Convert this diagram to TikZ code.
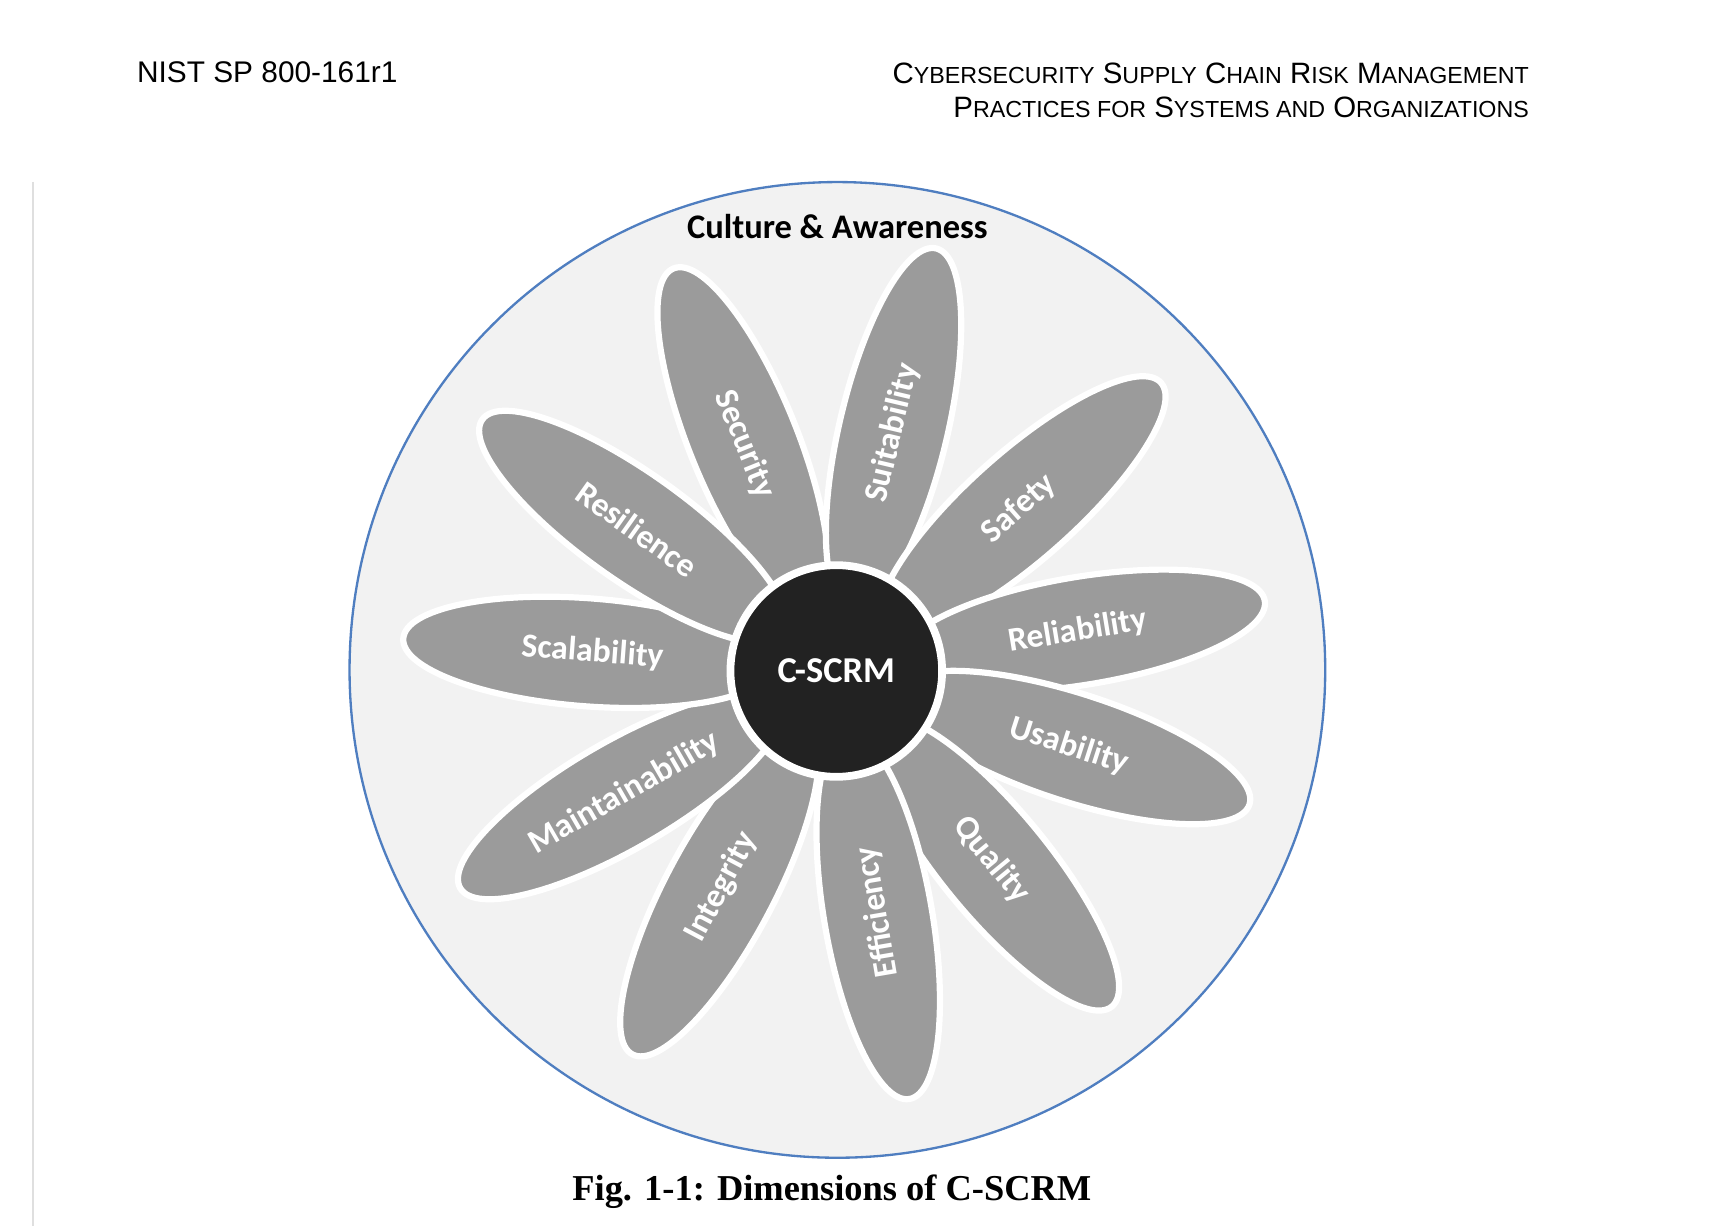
\documentclass[tikz,border=0pt]{standalone}
\usepackage{fontspec}
\setmainfont{Liberation Sans}
\newfontfamily\carl{Carlito}
\newfontfamily\tms{Liberation Serif}
\newcommand\lsc[1]{{\fontsize{6pt}{6pt}\selectfont #1}}
\definecolor{petal}{HTML}{9B9B9B}
\definecolor{bgc}{HTML}{F2F2F2}
\definecolor{ring}{HTML}{4F7EC0}
\definecolor{core}{HTML}{222222}
\usetikzlibrary{shapes.geometric,calc}
\tikzset{
 petalshape/.style={ellipse,draw=white,line width=1.6pt,fill=petal,minimum width=3.36cm,minimum height=0.98cm,inner sep=0pt},
 petaltext/.style={text=white,font=\carl\bfseries\fontsize{8.7pt}{9pt}\selectfont},
}
\begin{document}
\begin{tikzpicture}[x=0.01cm,y=-0.01cm]
\useasboundingbox (0,0) rectangle (1552,1113);
\draw[gray!25,line width=0.6pt] (30,165) -- (30,1113);
\node[anchor=west,font=\fontsize{7.7pt}{8pt}\selectfont] (hl) at (112,66) {NIST SP 800-161r1};
\node[anchor=east,font=\fontsize{7.6pt}{8pt}\selectfont] (hr1) at (1400,67) {C\lsc{YBERSECURITY} S\lsc{UPPLY} C\lsc{HAIN} R\lsc{ISK} M\lsc{ANAGEMENT}};
\node[anchor=east,font=\fontsize{7.6pt}{8pt}\selectfont] (hr2) at (1400,97) {P\lsc{RACTICES FOR} S\lsc{YSTEMS AND} O\lsc{RGANIZATIONS}};
\node[circle,draw=ring,fill=bgc,line width=0.6pt,minimum size=8.85cm,inner sep=0pt] (bg) at (760,608) {};
\node[font=\carl\bfseries\fontsize{8.9pt}{9pt}\selectfont] (ca) at (760,206) {Culture \& Awareness};
\foreach \ang/\rot/\txt/\n in {112/-68/Security/p1,76.7/76.7/Suitability/p2,41.6/41.6/Safety/p3,9.3/9.3/Reliability/p4,-17.9/-17.9/Usability/p5,-50.6/-50.6/Quality/p6,-80.3/99.7/Efficiency/p7,-118/62/Integrity/p8,-150/30/Maintainability/p9,175.7/-4.3/Scalability/p10,144.6/-35.4/Resilience/p11}{
  \node[petalshape,rotate=\ang] (\n) at ($(759,609)+({226*cos(\ang)},{-226*sin(\ang)})$) {};
  \node[petaltext,rotate=\rot] (\n t) at ($(759,609)+({222*cos(\ang)},{-222*sin(\ang)})$) {\txt};
}
\node[circle,draw=white,fill=core,line width=2pt,minimum size=1.92cm,inner sep=0pt,text=white,font=\carl\bfseries\fontsize{9.4pt}{10pt}\selectfont] (c) at (759,609) {C-SCRM};
\node[font=\tms\bfseries\fontsize{9.4pt}{10pt}\selectfont] (cap) at (755,1082) {Fig. 1-1: Dimensions of C-SCRM};
\end{tikzpicture}
\end{document}
